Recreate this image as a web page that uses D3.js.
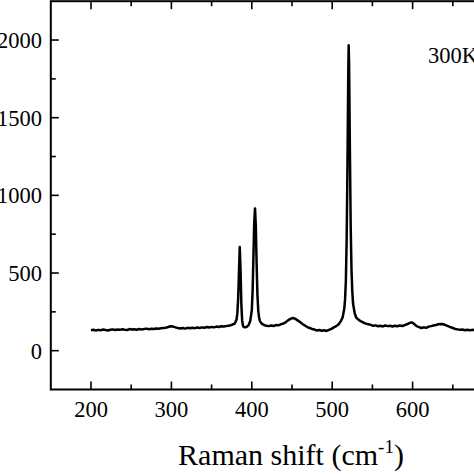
<!DOCTYPE html>
<html>
<head>
<meta charset="utf-8">
<script src="https://cdn.jsdelivr.net/npm/d3@7"></script>
<style>
  html, body { margin: 0; padding: 0; background: #fff; overflow: hidden; }
  svg { display: block; }
  text { font-family: "Liberation Serif", "DejaVu Serif", serif; fill: #000; }
</style>
</head>
<body>
<div id="chart"></div>
<script>
// Raman spectrum
const shift = [200, 203, 206, 209, 212, 215, 218, 221, 224, 227, 230, 233, 236, 239, 242, 245, 248, 251, 254, 257,
  260, 263, 266, 269, 272, 275, 278, 281, 284, 287, 290, 293, 296, 299, 302, 305, 308, 311, 314, 317,
  320, 323, 326, 329, 332, 335, 338, 341, 344, 347, 350, 353, 356, 359, 362, 365, 368, 371, 374, 377,
  379, 381, 382, 383, 384, 385, 386, 387, 388, 389, 390, 392, 394, 396, 398, 400, 401, 402, 403, 404,
  405, 406, 407, 408, 409, 410, 412, 415, 418, 421, 424, 427, 430, 433, 436, 439, 442, 445, 448, 451,
  454, 457, 460, 463, 466, 469, 472, 475, 478, 481, 484, 487, 490, 493, 496, 499, 502, 505, 508, 511,
  513, 515, 516, 517, 518, 519, 520, 520.5, 521, 522, 523, 524, 525, 526, 528, 530, 533, 536, 539, 542,
  545, 548, 551, 554, 557, 560, 563, 566, 569, 572, 575, 578, 581, 584, 587, 590, 593, 596, 599, 602,
  605, 608, 611, 614, 617, 620, 623, 626, 629, 632, 635, 638, 641, 644, 647, 650, 653, 656, 659, 662,
  665, 668, 671, 674, 677, 680, 690, 700]
const intensity = [132, 135, 130, 134, 131, 136, 133, 130, 135, 137, 133, 136, 134, 138, 135, 133, 139, 136, 138, 135,
  140, 137, 139, 142, 138, 141, 139, 143, 141, 144, 146, 148, 152, 157, 155, 150, 146, 143, 146, 142,
  147, 144, 148, 145, 149, 146, 150, 148, 152, 149, 153, 150, 155, 152, 157, 155, 158, 161, 164, 170,
  176, 200, 240, 330, 500, 667, 520, 300, 195, 162, 152, 150, 155, 165, 190, 260, 380, 600, 820, 916,
  800, 560, 360, 260, 215, 192, 176, 166, 160, 158, 162, 159, 165, 163, 170, 174, 182, 195, 205, 210,
  206, 195, 184, 172, 162, 152, 146, 140, 136, 130, 133, 128, 131, 127, 134, 140, 150, 158, 170, 192,
  215, 270, 330, 450, 720, 1200, 1800, 1967, 1850, 1300, 800, 520, 380, 300, 240, 212, 198, 188, 180, 174,
  170, 166, 160, 163, 157, 160, 156, 162, 158, 161, 156, 160, 157, 162, 159, 164, 170, 178, 182, 172,
  158, 152, 146, 150, 147, 155, 158, 162, 165, 170, 172, 170, 164, 158, 152, 146, 140, 137, 134, 136,
  132, 135, 131, 134, 132, 133, 131, 132]

const xTicks = [200, 300, 400, 500, 600]
const yTicks = [0, 500, 1000, 1500, 2000]
const tempLabel = "300K"

const width = 474, height = 474

const svg = d3.select("#chart").append("svg")
  .attr("width", width)
  .attr("height", height)

const x = d3.scaleLinear().domain([150, 750]).range([50.8, 533.2])
const y = d3.scaleLinear().domain([-250, 2250]).range([389.5, 1.2])

// frame
svg.append("rect")
  .attr("x", x(150)).attr("y", y(2250))
  .attr("width", x(750) - x(150)).attr("height", y(-250) - y(2250))
  .attr("fill", "none").attr("stroke", "#000").attr("stroke-width", 2)

// ticks point inward, minor every half step
const xMinor = d3.range(200, 751, 50)
const yMinor = d3.range(-250, 2251, 250)

const tickG = svg.append("g").attr("stroke", "#000").attr("stroke-width", 1.6)
xMinor.forEach(v => {
  const len = v % 100 === 0 ? 8 : 5
  tickG.append("line").attr("x1", x(v)).attr("x2", x(v)).attr("y1", y(-250)).attr("y2", y(-250) - len)
  tickG.append("line").attr("x1", x(v)).attr("x2", x(v)).attr("y1", y(2250)).attr("y2", y(2250) + len)
})
yMinor.forEach(v => {
  if (v <= -250 || v >= 2250) return
  const len = v % 500 === 0 ? 8 : 5
  tickG.append("line").attr("x1", x(150)).attr("x2", x(150) + len).attr("y1", y(v)).attr("y2", y(v))
})

svg.append("g").selectAll("text").data(xTicks).join("text")
  .attr("x", d => x(d)).attr("y", 417)
  .attr("text-anchor", "middle")
  .attr("font-size", 22.5)
  .text(d => d)

svg.append("g").selectAll("text").data(yTicks).join("text")
  .attr("x", 42).attr("y", d => y(d)).attr("dy", "0.35em")
  .attr("text-anchor", "end")
  .attr("font-size", 22.5)
  .text(d => d)

// axis title
const title = svg.append("text")
  .attr("x", 291).attr("y", 465)
  .attr("text-anchor", "middle")
  .attr("font-size", 30)
title.append("tspan").text("Raman shift (cm")
title.append("tspan").attr("font-size", 19).attr("dy", -12).text("-1")
title.append("tspan").attr("dy", 12).text(")")

svg.append("text")
  .attr("x", 428).attr("y", 63)
  .attr("font-size", 22.5)
  .text(tempLabel)

// spectrum
const pts = shift.map((s, i) => [s, intensity[i]])
svg.append("path")
  .datum(pts)
  .attr("fill", "none")
  .attr("stroke", "#000")
  .attr("stroke-width", 2.5)
  .attr("stroke-linejoin", "round")
  .attr("d", d3.line().x(d => x(d[0])).y(d => y(d[1])))
</script>
</body>
</html>
